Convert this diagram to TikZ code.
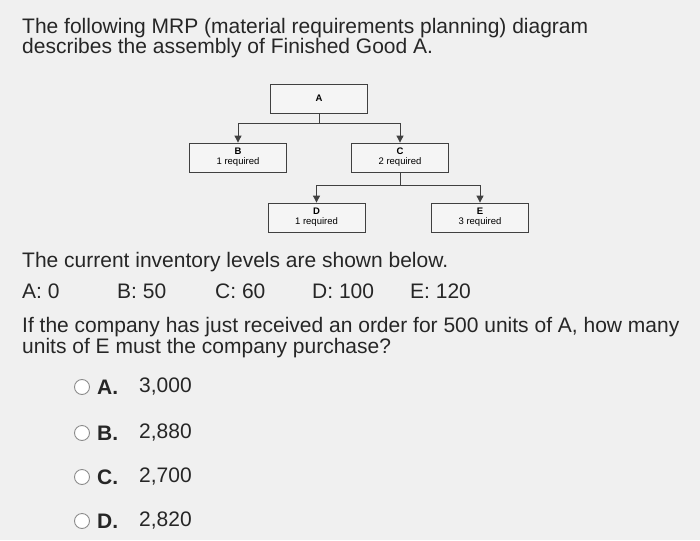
\documentclass[tikz,border=0pt]{standalone}
\usepackage{fontspec}
\setmainfont{Liberation Sans}
\usetikzlibrary{arrows.meta}
\begin{document}
\begin{tikzpicture}[x=1pt,y=-1pt,
  box/.style={draw=black!75,line width=0.8pt,fill=white!92!gray,minimum width=97pt,minimum height=29pt,inner sep=0pt,align=center,font=\fontsize{9.5}{10}\selectfont},
  conn/.style={draw=black!75,line width=0.9pt},
  arr/.style={conn,-{Triangle[length=7pt,width=7pt]}},
  txt/.style={anchor=west,inner sep=0pt,font=\fontsize{21}{22}\selectfont,text=black!85},
  opt/.style={circle,draw=black!45,line width=0.9pt,fill=white,minimum size=15pt,inner sep=0pt}]
\fill[gray!12] (0,0) rectangle (700,540);
\useasboundingbox (0,0) rectangle (700,540);
\node[txt] (t1) at (22,28) {The following MRP (material requirements planning) diagram};
\node[txt] (t2) at (22,48) {describes the assembly of Finished Good A.};
\node[box] (A) at (319,98.5) {\textbf{A}};
\node[box] (B) at (238,157.5) {\textbf{B}\\1 required};
\node[box] (C) at (400,157.5) {\textbf{C}\\2 required};
\node[box] (D) at (316.5,217.5) {\textbf{D}\\1 required};
\node[box] (E) at (480,217.5) {\textbf{E}\\3 required};
\coordinate (ab) at (319,123);
\coordinate (cd) at (400,185);
\draw[conn] (A.south) -- (ab);
\draw[arr] (ab) -| (B.north);
\draw[arr] (ab) -| (C.north);
\draw[conn] (C.south) -- (cd);
\draw[arr] (cd) -| (D.north);
\draw[arr] (cd) -| (E.north);
\node[txt] (t3) at (22,262) {The current inventory levels are shown below.};
\node[txt] (iA) at (22,291) {A: 0};
\node[txt] (iB) at (117,291) {B: 50};
\node[txt] (iC) at (215,291) {C: 60};
\node[txt] (iD) at (312,291) {D: 100};
\node[txt] (iE) at (410,291) {E: 120};
\node[txt] (t4) at (22,327) {If the company has just received an order for 500 units of A, how many};
\node[txt] (t5) at (22,348) {units of E must the company purchase?};
\foreach \y/\l/\v [count=\i] in {387/A/3{,}000,433/B/2{,}880,477/C/2{,}700,521/D/2{,}820}{
  \node[opt] (o\i) at (82,\y) {};
  \node[txt] (l\i) at (97,\y) {\textbf{\l.}};
  \node[txt] (v\i) at (139,\y) {\v};
}
\end{tikzpicture}
\end{document}
